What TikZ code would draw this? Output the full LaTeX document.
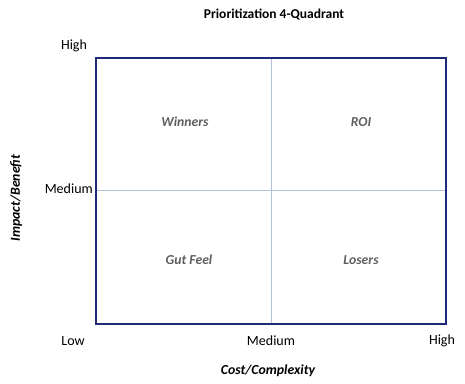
\documentclass[tikz,border=0pt]{standalone}
\usepackage{fontspec}
\setmainfont{Carlito}
\usepackage{xcolor}
\usetikzlibrary{positioning}
\definecolor{framecol}{HTML}{1F2A7A}
\definecolor{gridcol}{HTML}{B4C0DC}
\definecolor{quadcol}{HTML}{5F5F5F}
\tikzset{
  axislabel/.style={font=\fontsize{14}{16}\selectfont, inner sep=0pt},
  axistitle/.style={font=\fontsize{13.8}{16}\selectfont\bfseries\itshape, inner sep=0pt},
  quadrant/.style={font=\fontsize{13.7}{16}\selectfont\bfseries\itshape, text=quadcol, inner sep=0pt},
  frame/.style={draw=framecol, line width=1.4pt},
  divider/.style={draw=gridcol, line width=1pt},
}

\begin{document}
\begin{tikzpicture}[x=1pt, y=-1pt]
  \useasboundingbox (0,0) rectangle (465,383);
  % corners of the grid
  \coordinate (sw) at (96,324);
  \coordinate (ne) at (446,58);
  \coordinate (mid) at (271,190);

  \draw[divider] (mid |- ne) -- (mid |- sw);
  \draw[divider] (sw |- mid) -- (ne |- mid);
  \draw[frame] (sw) rectangle (ne);

  \node[font=\fontsize{13.5}{16}\selectfont\bfseries, inner sep=0pt] (title) at (274,15) {Prioritization 4-Quadrant};

  \node[quadrant] (win)  at (185,122) {Winners};
  \node[quadrant] (roi)  at (361,122) {ROI};
  \node[quadrant] (gut)  at (189,260) {Gut Feel};
  \node[quadrant] (lose) at (361,260) {Losers};

  \node[axislabel] (yhigh) at (74,46) {High};
  \node[axislabel, anchor=east] (ymed) at (93,189) {Medium};
  \node[axislabel] (xlow)  at (73,341) {Low};
  \node[axislabel] (xmed)  at (271,341) {Medium};
  \node[axislabel] (xhigh) at (442,341) {High};

  \node[axistitle] (xtitle) at (268,371) {Cost/Complexity};
  \node[axistitle, rotate=90] (ytitle) at (16,198) {Impact/Benefit};
\end{tikzpicture}
\end{document}
